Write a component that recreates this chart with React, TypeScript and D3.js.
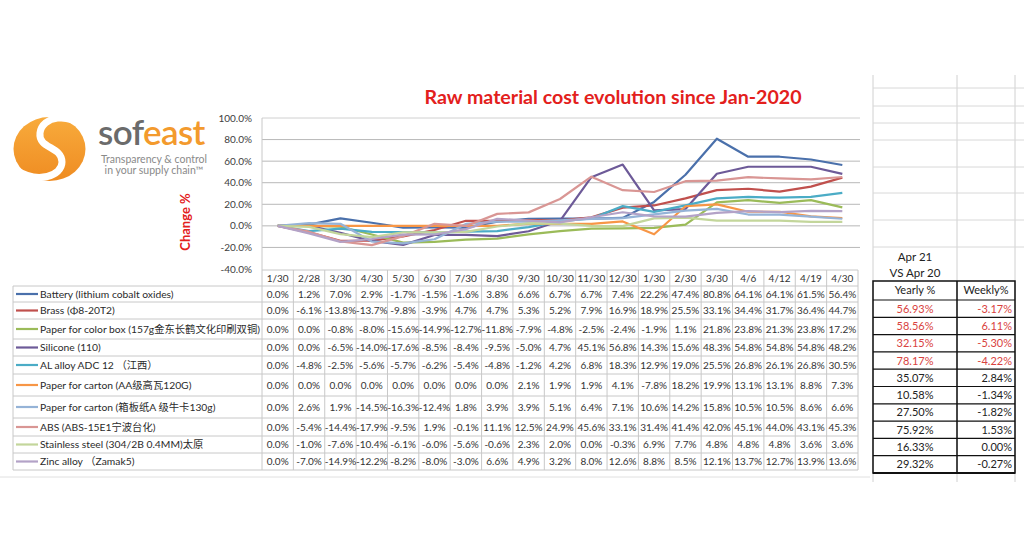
import React from 'react';
import * as d3 from 'd3';

const dates = ['1/30', '2/28', '3/30', '4/30', '5/30', '6/30', '7/30', '8/30', '9/30', '10/30', '11/30', '12/30', '1/30', '2/30', '3/30', '4/6', '4/12', '4/19', '4/30'];

const seriesNames = [
  'Battery (lithium cobalt oxides)',
  'Brass (Φ8-20T2)',
  'Paper for color box (157g金东长鹤文化印刷双铜)',
  'Silicone (110)',
  'AL alloy ADC 12 （江西）',
  'Paper for carton (AA级高瓦120G)',
  'Paper for carton (箱板纸A 级牛卡130g)',
  'ABS (ABS-15E1宁波台化)',
  'Stainless steel (304/2B 0.4MM)太原',
  'Zinc alloy （Zamak5)',
];

const seriesColors = ['#4a70ab', '#c0504d', '#9bbb59', '#6d5a98', '#4bacc6', '#f79646', '#95b3d7', '#d99694', '#c3d69b', '#b3a2c7'];

const battery = [0.0, 1.2, 7.0, 2.9, -1.7, -1.5, -1.6, 3.8, 6.6, 6.7, 6.7, 7.4, 22.2, 47.4, 80.8, 64.1, 64.1, 61.5, 56.4];
const brass = [0.0, -6.1, -13.8, -13.7, -9.8, -3.9, 4.7, 4.7, 5.3, 5.2, 7.9, 16.9, 18.9, 25.5, 33.1, 34.4, 31.7, 36.4, 44.7];
const paperColorBox = [0.0, 0.0, -0.8, -8.0, -15.6, -14.9, -12.7, -11.8, -7.9, -4.8, -2.5, -2.4, -1.9, 1.1, 21.8, 23.8, 21.3, 23.8, 17.2];
const silicone = [0.0, 0.0, -6.5, -14.0, -17.6, -8.5, -8.4, -9.5, -5.0, 4.7, 45.1, 56.8, 14.3, 15.6, 48.3, 54.8, 54.8, 54.8, 48.2];
const alAlloy = [0.0, -4.8, -2.5, -5.6, -5.7, -6.2, -5.4, -4.8, -1.2, 4.2, 6.8, 18.3, 12.9, 19.0, 25.5, 26.8, 26.1, 26.8, 30.5];
const paperCartonAA = [0.0, 0.0, 0.0, 0.0, 0.0, 0.0, 0.0, 0.0, 2.1, 1.9, 1.9, 4.1, -7.8, 18.2, 19.9, 13.1, 13.1, 8.8, 7.3];
const paperCartonBox = [0.0, 2.6, 1.9, -14.5, -16.3, -12.4, 1.8, 3.9, 3.9, 5.1, 6.4, 7.1, 10.6, 14.2, 15.8, 10.5, 10.5, 8.6, 6.6];
const abs = [0.0, -5.4, -14.4, -17.9, -9.5, 1.9, -0.1, 11.1, 12.5, 24.9, 45.6, 33.1, 31.4, 41.4, 42.0, 45.1, 44.0, 43.1, 45.3];
const stainless = [0.0, -1.0, -7.6, -10.4, -6.1, -6.0, -5.6, -0.6, 2.3, 2.0, 0.0, -0.3, 6.9, 7.7, 4.8, 4.8, 4.8, 3.6, 3.6];
const zinc = [0.0, -7.0, -14.9, -12.2, -8.2, -8.0, -3.0, 6.6, 4.9, 3.2, 8.0, 12.6, 8.8, 8.5, 12.1, 13.7, 12.7, 13.9, 13.6];

const seriesValues = [battery, brass, paperColorBox, silicone, alAlloy, paperCartonAA, paperCartonBox, abs, stainless, zinc];

const yTicks = [-40, -20, 0, 20, 40, 60, 80, 100];

const yearly = [56.93, 58.56, 32.15, 78.17, 35.07, 10.58, 27.5, 75.92, 16.33, 29.32];
const weekly = [-3.17, 6.11, -5.3, -4.22, 2.84, -1.34, -1.82, 1.53, 0.0, -0.27];
const highlighted = [true, true, true, true, false, false, false, false, false, false];

const FONT = 'Lato, "Noto Sans CJK SC", sans-serif';

export default function App() {
  const W = 1024;
  const H = 535;
  const plotL = 262;
  const plotR = 858;
  const x = d3.scaleBand<number>().domain(d3.range(dates.length)).range([plotL, plotR]);
  const y = d3.scaleLinear().domain([-40, 100]).range([269, 118]);
  const bw = x.bandwidth();
  const cx = (i: number) => (x(i) as number) + bw / 2;
  const line = d3.line<number>().x((_, i) => cx(i)).y((d) => y(d));

  const rowEdges = [286, 302, 319, 339, 356, 374, 396, 418, 436, 453, 470];
  const headerTop = 270;
  const legendL = 13;

  const rtL = 873, rtM = 957, rtR = 1015;
  const rtHeadTop = 281, rtHeadBot = 300;
  const rtRowH = (473 - 300) / 10;
  const grayGridY = [88, 106, 123, 140, 167, 193, 220, 247];

  const fmt = (v: number) => v.toFixed(1) + '%';
  const fmt2 = (v: number) => v.toFixed(2) + '%';

  return (
    <svg width={W} height={H} style={{ position: 'absolute', left: 0, top: 0, background: '#fff' }} fontFamily={FONT}>
      <defs>
        <linearGradient id="logoGrad" x1="0" y1="0" x2="0" y2="1">
          <stop offset="0" stopColor="#f8ab3c" />
          <stop offset="1" stopColor="#ef8c22" />
        </linearGradient>
      </defs>
      <rect x={0} y={0} width={W} height={H} fill="#fff" />

      {[rtL, rtM, rtR].map((gx) => (
        <line key={'gv' + gx} x1={gx} x2={gx} y1={75} y2={482} stroke="#d0d0d0" strokeWidth={1} />
      ))}
      {grayGridY.map((gy) => (
        <line key={'gh' + gy} x1={rtL} x2={W} y1={gy} y2={gy} stroke="#d8d8d8" strokeWidth={1} />
      ))}
      <line x1={0} x2={870} y1={477} y2={477} stroke="#e0e0e0" strokeWidth={1} />

      {/* logo */}
      <g>
        <ellipse cx={49.5} cy={149} rx={36} ry={32} fill="url(#logoGrad)" />
        <path d="M 84 128 C 70 112, 42 116, 40 133 C 38 149, 62 146, 62 162 C 62 176, 38 184, 16 170"
          fill="none" stroke="#fff" strokeWidth={7} strokeLinecap="round" />
        <text x={98} y={145} fontSize={35} fontWeight={600} fontFamily="Lato, sans-serif" letterSpacing={-0.6}>
          <tspan fill="#6b6b6b">sof</tspan>
          <tspan fill="#f39a2d">east</tspan>
        </text>
        <text x={154} y={163} fontSize={10.5} fill="#8a8a8a" textAnchor="middle">Transparency &amp; control</text>
        <text x={154} y={174} fontSize={10.5} fill="#8a8a8a" textAnchor="middle">in your supply chain™</text>
      </g>

      <text x={613} y={104} fontSize={19} fontWeight={700} fill="#e3201c" textAnchor="middle"
        textLength={377} lengthAdjust="spacingAndGlyphs">Raw material cost evolution since Jan-2020</text>

      <text transform="translate(190,222) rotate(-90)" fontSize={13} fontWeight={700} fill="#e3201c" textAnchor="middle">Change %</text>

      {yTicks.map((t) => (
        <g key={'yt' + t}>
          {t > -40 && <line x1={plotL} x2={plotR + 2} y1={y(t)} y2={y(t)} stroke={t === 100 ? '#d0d0d0' : '#b8b8b8'} strokeWidth={1} />}
          <text x={252} y={y(t)} dy="0.35em" fontSize={10} fill="#404040" textAnchor="end">{t.toFixed(1) + '%'}</text>
        </g>
      ))}
      <line x1={plotL} x2={plotL} y1={y(100)} y2={headerTop} stroke="#c8c8c8" strokeWidth={1} />

      {seriesValues.map((vals, si) => (
        <path key={'s' + si} d={line(vals) as string} fill="none" stroke={seriesColors[si]} strokeWidth={2.2} strokeLinejoin="round" />
      ))}

      <g>
        <line x1={plotL} x2={plotR} y1={headerTop} y2={headerTop} stroke="#c8c8c8" />
        {dates.map((d, i) => (
          <text key={'h' + i} x={cx(i)} y={(headerTop + rowEdges[0]) / 2} dy="0.36em" fontSize={10} fill="#333" textAnchor="middle">{d}</text>
        ))}
        {d3.range(dates.length + 1).map((i) => {
          const vx = i < dates.length ? (x(i) as number) : plotR;
          return <line key={'v' + i} x1={vx} x2={vx} y1={headerTop} y2={rowEdges[rowEdges.length - 1]} stroke="#c8c8c8" />;
        })}
        <line x1={legendL} x2={legendL} y1={rowEdges[0]} y2={rowEdges[rowEdges.length - 1]} stroke="#c8c8c8" />
        {rowEdges.map((ry, i) => (
          <line key={'r' + i} x1={legendL} x2={plotR} y1={ry} y2={ry} stroke="#c8c8c8" />
        ))}
        {seriesValues.map((vals, si) => {
          const cy = (rowEdges[si] + rowEdges[si + 1]) / 2;
          return (
            <g key={'row' + si}>
              <line x1={16} x2={38} y1={cy} y2={cy} stroke={seriesColors[si]} strokeWidth={2.2} />
              <text x={40} y={cy} dy="0.36em" fontSize={10.3} fill="#2a2a2a">{seriesNames[si]}</text>
              {vals.map((v, i) => (
                <text key={i} x={cx(i)} y={cy} dy="0.36em" fontSize={10} fill="#333" textAnchor="middle">{fmt(v)}</text>
              ))}
            </g>
          );
        })}
      </g>

      <g>
        <text x={(rtL + rtM) / 2} y={257} dy="0.36em" fontSize={11.5} fill="#222" textAnchor="middle">Apr 21</text>
        <text x={(rtL + rtM) / 2} y={273} dy="0.36em" fontSize={11.5} fill="#222" textAnchor="middle">VS Apr 20</text>
        <rect x={rtL} y={rtHeadTop} width={rtR - rtL} height={473 - rtHeadTop} fill="none" stroke="#111" strokeWidth={1.5} />
        <line x1={rtM} x2={rtM} y1={rtHeadTop} y2={473} stroke="#111" strokeWidth={1.5} />
        <line x1={rtL} x2={rtR} y1={rtHeadBot} y2={rtHeadBot} stroke="#111" strokeWidth={1.2} />
        <text x={(rtL + rtM) / 2} y={(rtHeadTop + rtHeadBot) / 2} dy="0.36em" fontSize={11} fill="#222" textAnchor="middle">Yearly %</text>
        <text x={(rtM + rtR) / 2} y={(rtHeadTop + rtHeadBot) / 2} dy="0.36em" fontSize={11} fill="#222" textAnchor="middle">Weekly%</text>
        {yearly.map((v, i) => {
          const top = rtHeadBot + i * rtRowH;
          const cy = top + rtRowH / 2;
          const col = highlighted[i] ? '#d9423e' : '#222';
          return (
            <g key={'rt' + i}>
              {i > 0 && <line x1={rtL} x2={rtR} y1={top} y2={top} stroke="#111" strokeWidth={1.2} />}
              <text x={(rtL + rtM) / 2} y={cy} dy="0.36em" fontSize={11} fill={col} textAnchor="middle">{fmt2(v)}</text>
              <text x={rtR - 3} y={cy} dy="0.36em" fontSize={11} fill={col} textAnchor="end">{fmt2(weekly[i])}</text>
            </g>
          );
        })}
        <line x1={rtL} x2={rtR} y1={473} y2={473} stroke="#111" strokeWidth={2.2} />
      </g>
    </svg>
  );
}
